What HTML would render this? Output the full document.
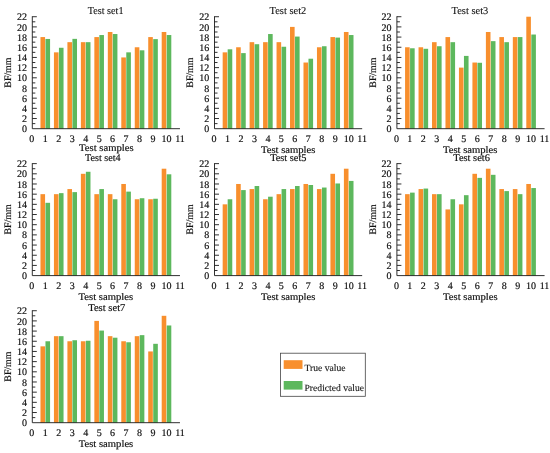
<!DOCTYPE html><html><head><meta charset="utf-8"><title>Test sets</title><style>html,body{margin:0;padding:0;background:#fff}svg{display:block}text{font-family:"Liberation Serif",serif;fill:#111;stroke:#111;stroke-width:0.18px;text-rendering:geometricPrecision}.t{stroke-width:0.1px}</style></head><body>
<svg width="550" height="453" viewBox="0 0 550 453">
<rect width="550" height="453" fill="#fff"/>
<g><rect x="40.47" y="37.08" width="4.6" height="91.62" fill="#F88F2D"/><rect x="45.47" y="38.96" width="4.6" height="89.74" fill="#5DB85D"/><rect x="53.94" y="52.35" width="4.6" height="76.35" fill="#F88F2D"/><rect x="58.94" y="47.77" width="4.6" height="80.93" fill="#5DB85D"/><rect x="67.41" y="42.17" width="4.6" height="86.53" fill="#F88F2D"/><rect x="72.41" y="38.86" width="4.6" height="89.84" fill="#5DB85D"/><rect x="80.88" y="42.17" width="4.6" height="86.53" fill="#F88F2D"/><rect x="85.88" y="42.17" width="4.6" height="86.53" fill="#5DB85D"/><rect x="94.35" y="37.08" width="4.6" height="91.62" fill="#F88F2D"/><rect x="99.35" y="35.04" width="4.6" height="93.66" fill="#5DB85D"/><rect x="107.82" y="31.99" width="4.6" height="96.71" fill="#F88F2D"/><rect x="112.82" y="34.03" width="4.6" height="94.67" fill="#5DB85D"/><rect x="121.29" y="57.44" width="4.6" height="71.26" fill="#F88F2D"/><rect x="126.29" y="52.35" width="4.6" height="76.35" fill="#5DB85D"/><rect x="134.76" y="47.26" width="4.6" height="81.44" fill="#F88F2D"/><rect x="139.76" y="50.31" width="4.6" height="78.39" fill="#5DB85D"/><rect x="148.23" y="37.08" width="4.6" height="91.62" fill="#F88F2D"/><rect x="153.23" y="39.12" width="4.6" height="89.58" fill="#5DB85D"/><rect x="161.70" y="31.99" width="4.6" height="96.71" fill="#F88F2D"/><rect x="166.70" y="35.04" width="4.6" height="93.66" fill="#5DB85D"/><path d="M32.30 16.27V128.70H179.97" fill="none" stroke="#1a1a1a" stroke-width="0.9"/><path d="M32.30 123.61h3M32.30 118.52h4.5M32.30 113.43h3M32.30 108.34h4.5M32.30 103.25h3M32.30 98.16h4.5M32.30 93.07h3M32.30 87.98h4.5M32.30 82.89h3M32.30 77.80h4.5M32.30 72.71h3M32.30 67.62h4.5M32.30 62.53h3M32.30 57.44h4.5M32.30 52.35h3M32.30 47.26h4.5M32.30 42.17h3M32.30 37.08h4.5M32.30 31.99h3M32.30 26.90h4.5M32.30 21.81h3M32.30 16.72h4.5" fill="none" stroke="#1a1a1a" stroke-width="0.9"/><text x="27.00" y="132.30" font-size="10" text-anchor="end">0</text><text x="27.00" y="122.12" font-size="10" text-anchor="end">2</text><text x="27.00" y="111.94" font-size="10" text-anchor="end">4</text><text x="27.00" y="101.76" font-size="10" text-anchor="end">6</text><text x="27.00" y="91.58" font-size="10" text-anchor="end">8</text><text x="27.00" y="81.40" font-size="10" text-anchor="end">10</text><text x="27.00" y="71.22" font-size="10" text-anchor="end">12</text><text x="27.00" y="61.04" font-size="10" text-anchor="end">14</text><text x="27.00" y="50.86" font-size="10" text-anchor="end">16</text><text x="27.00" y="40.68" font-size="10" text-anchor="end">18</text><text x="27.00" y="30.50" font-size="10" text-anchor="end">20</text><text x="27.00" y="20.32" font-size="10" text-anchor="end">22</text><text x="31.80" y="142.00" font-size="10" text-anchor="middle">0</text><text x="45.27" y="142.00" font-size="10" text-anchor="middle">1</text><text x="58.74" y="142.00" font-size="10" text-anchor="middle">2</text><text x="72.21" y="142.00" font-size="10" text-anchor="middle">3</text><text x="85.68" y="142.00" font-size="10" text-anchor="middle">4</text><text x="99.15" y="142.00" font-size="10" text-anchor="middle">5</text><text x="112.62" y="142.00" font-size="10" text-anchor="middle">6</text><text x="126.09" y="142.00" font-size="10" text-anchor="middle">7</text><text x="139.56" y="142.00" font-size="10" text-anchor="middle">8</text><text x="153.03" y="142.00" font-size="10" text-anchor="middle">9</text><text x="166.50" y="142.00" font-size="10" text-anchor="middle">10</text><text x="179.97" y="142.00" font-size="10" text-anchor="middle">11</text><text x="79.05" y="150.90" font-size="10.1" textLength="54.5" lengthAdjust="spacingAndGlyphs">Test samples</text><text class="t" x="87.70" y="13.60" font-size="10.6" textLength="35.8" lengthAdjust="spacingAndGlyphs">Test set1</text><text transform="translate(10.90 72.61) rotate(-90)" font-size="9.9" text-anchor="middle">BF/mm</text></g>
<g><rect x="222.67" y="52.35" width="4.6" height="76.35" fill="#F88F2D"/><rect x="227.67" y="49.30" width="4.6" height="79.40" fill="#5DB85D"/><rect x="236.14" y="47.26" width="4.6" height="81.44" fill="#F88F2D"/><rect x="241.14" y="53.11" width="4.6" height="75.59" fill="#5DB85D"/><rect x="249.61" y="42.17" width="4.6" height="86.53" fill="#F88F2D"/><rect x="254.61" y="44.21" width="4.6" height="84.49" fill="#5DB85D"/><rect x="263.08" y="42.17" width="4.6" height="86.53" fill="#F88F2D"/><rect x="268.08" y="34.03" width="4.6" height="94.67" fill="#5DB85D"/><rect x="276.55" y="42.17" width="4.6" height="86.53" fill="#F88F2D"/><rect x="281.55" y="46.75" width="4.6" height="81.95" fill="#5DB85D"/><rect x="290.02" y="26.90" width="4.6" height="101.80" fill="#F88F2D"/><rect x="295.02" y="36.57" width="4.6" height="92.13" fill="#5DB85D"/><rect x="303.49" y="62.53" width="4.6" height="66.17" fill="#F88F2D"/><rect x="308.49" y="58.71" width="4.6" height="69.99" fill="#5DB85D"/><rect x="316.96" y="47.26" width="4.6" height="81.44" fill="#F88F2D"/><rect x="321.96" y="46.24" width="4.6" height="82.46" fill="#5DB85D"/><rect x="330.43" y="37.08" width="4.6" height="91.62" fill="#F88F2D"/><rect x="335.43" y="37.59" width="4.6" height="91.11" fill="#5DB85D"/><rect x="343.90" y="31.99" width="4.6" height="96.71" fill="#F88F2D"/><rect x="348.90" y="35.04" width="4.6" height="93.66" fill="#5DB85D"/><path d="M214.50 16.27V128.70H362.17" fill="none" stroke="#1a1a1a" stroke-width="0.9"/><path d="M214.50 123.61h3M214.50 118.52h4.5M214.50 113.43h3M214.50 108.34h4.5M214.50 103.25h3M214.50 98.16h4.5M214.50 93.07h3M214.50 87.98h4.5M214.50 82.89h3M214.50 77.80h4.5M214.50 72.71h3M214.50 67.62h4.5M214.50 62.53h3M214.50 57.44h4.5M214.50 52.35h3M214.50 47.26h4.5M214.50 42.17h3M214.50 37.08h4.5M214.50 31.99h3M214.50 26.90h4.5M214.50 21.81h3M214.50 16.72h4.5" fill="none" stroke="#1a1a1a" stroke-width="0.9"/><text x="209.20" y="132.30" font-size="10" text-anchor="end">0</text><text x="209.20" y="122.12" font-size="10" text-anchor="end">2</text><text x="209.20" y="111.94" font-size="10" text-anchor="end">4</text><text x="209.20" y="101.76" font-size="10" text-anchor="end">6</text><text x="209.20" y="91.58" font-size="10" text-anchor="end">8</text><text x="209.20" y="81.40" font-size="10" text-anchor="end">10</text><text x="209.20" y="71.22" font-size="10" text-anchor="end">12</text><text x="209.20" y="61.04" font-size="10" text-anchor="end">14</text><text x="209.20" y="50.86" font-size="10" text-anchor="end">16</text><text x="209.20" y="40.68" font-size="10" text-anchor="end">18</text><text x="209.20" y="30.50" font-size="10" text-anchor="end">20</text><text x="209.20" y="20.32" font-size="10" text-anchor="end">22</text><text x="214.00" y="142.00" font-size="10" text-anchor="middle">0</text><text x="227.47" y="142.00" font-size="10" text-anchor="middle">1</text><text x="240.94" y="142.00" font-size="10" text-anchor="middle">2</text><text x="254.41" y="142.00" font-size="10" text-anchor="middle">3</text><text x="267.88" y="142.00" font-size="10" text-anchor="middle">4</text><text x="281.35" y="142.00" font-size="10" text-anchor="middle">5</text><text x="294.82" y="142.00" font-size="10" text-anchor="middle">6</text><text x="308.29" y="142.00" font-size="10" text-anchor="middle">7</text><text x="321.76" y="142.00" font-size="10" text-anchor="middle">8</text><text x="335.23" y="142.00" font-size="10" text-anchor="middle">9</text><text x="348.70" y="142.00" font-size="10" text-anchor="middle">10</text><text x="362.17" y="142.00" font-size="10" text-anchor="middle">11</text><text x="260.95" y="152.80" font-size="10.1" textLength="54.5" lengthAdjust="spacingAndGlyphs">Test samples</text><text class="t" x="269.50" y="13.60" font-size="10.6" textLength="36.8" lengthAdjust="spacingAndGlyphs">Test set2</text><text transform="translate(193.10 72.61) rotate(-90)" font-size="9.9" text-anchor="middle">BF/mm</text></g>
<g><rect x="405.07" y="47.26" width="4.6" height="81.44" fill="#F88F2D"/><rect x="410.07" y="48.28" width="4.6" height="80.42" fill="#5DB85D"/><rect x="418.54" y="47.26" width="4.6" height="81.44" fill="#F88F2D"/><rect x="423.54" y="48.79" width="4.6" height="79.91" fill="#5DB85D"/><rect x="432.01" y="42.17" width="4.6" height="86.53" fill="#F88F2D"/><rect x="437.01" y="46.24" width="4.6" height="82.46" fill="#5DB85D"/><rect x="445.48" y="37.08" width="4.6" height="91.62" fill="#F88F2D"/><rect x="450.48" y="42.17" width="4.6" height="86.53" fill="#5DB85D"/><rect x="458.95" y="67.62" width="4.6" height="61.08" fill="#F88F2D"/><rect x="463.95" y="55.91" width="4.6" height="72.79" fill="#5DB85D"/><rect x="472.42" y="62.53" width="4.6" height="66.17" fill="#F88F2D"/><rect x="477.42" y="62.78" width="4.6" height="65.92" fill="#5DB85D"/><rect x="485.89" y="31.99" width="4.6" height="96.71" fill="#F88F2D"/><rect x="490.89" y="41.15" width="4.6" height="87.55" fill="#5DB85D"/><rect x="499.36" y="37.08" width="4.6" height="91.62" fill="#F88F2D"/><rect x="504.36" y="42.17" width="4.6" height="86.53" fill="#5DB85D"/><rect x="512.83" y="37.08" width="4.6" height="91.62" fill="#F88F2D"/><rect x="517.83" y="37.08" width="4.6" height="91.62" fill="#5DB85D"/><rect x="526.30" y="16.72" width="4.6" height="111.98" fill="#F88F2D"/><rect x="531.30" y="34.53" width="4.6" height="94.16" fill="#5DB85D"/><path d="M396.90 16.27V128.70H544.57" fill="none" stroke="#1a1a1a" stroke-width="0.9"/><path d="M396.90 123.61h3M396.90 118.52h4.5M396.90 113.43h3M396.90 108.34h4.5M396.90 103.25h3M396.90 98.16h4.5M396.90 93.07h3M396.90 87.98h4.5M396.90 82.89h3M396.90 77.80h4.5M396.90 72.71h3M396.90 67.62h4.5M396.90 62.53h3M396.90 57.44h4.5M396.90 52.35h3M396.90 47.26h4.5M396.90 42.17h3M396.90 37.08h4.5M396.90 31.99h3M396.90 26.90h4.5M396.90 21.81h3M396.90 16.72h4.5" fill="none" stroke="#1a1a1a" stroke-width="0.9"/><text x="391.60" y="132.30" font-size="10" text-anchor="end">0</text><text x="391.60" y="122.12" font-size="10" text-anchor="end">2</text><text x="391.60" y="111.94" font-size="10" text-anchor="end">4</text><text x="391.60" y="101.76" font-size="10" text-anchor="end">6</text><text x="391.60" y="91.58" font-size="10" text-anchor="end">8</text><text x="391.60" y="81.40" font-size="10" text-anchor="end">10</text><text x="391.60" y="71.22" font-size="10" text-anchor="end">12</text><text x="391.60" y="61.04" font-size="10" text-anchor="end">14</text><text x="391.60" y="50.86" font-size="10" text-anchor="end">16</text><text x="391.60" y="40.68" font-size="10" text-anchor="end">18</text><text x="391.60" y="30.50" font-size="10" text-anchor="end">20</text><text x="391.60" y="20.32" font-size="10" text-anchor="end">22</text><text x="396.40" y="142.00" font-size="10" text-anchor="middle">0</text><text x="409.87" y="142.00" font-size="10" text-anchor="middle">1</text><text x="423.34" y="142.00" font-size="10" text-anchor="middle">2</text><text x="436.81" y="142.00" font-size="10" text-anchor="middle">3</text><text x="450.28" y="142.00" font-size="10" text-anchor="middle">4</text><text x="463.75" y="142.00" font-size="10" text-anchor="middle">5</text><text x="477.22" y="142.00" font-size="10" text-anchor="middle">6</text><text x="490.69" y="142.00" font-size="10" text-anchor="middle">7</text><text x="504.16" y="142.00" font-size="10" text-anchor="middle">8</text><text x="517.63" y="142.00" font-size="10" text-anchor="middle">9</text><text x="531.10" y="142.00" font-size="10" text-anchor="middle">10</text><text x="544.57" y="142.00" font-size="10" text-anchor="middle">11</text><text x="442.95" y="152.80" font-size="10.1" textLength="54.5" lengthAdjust="spacingAndGlyphs">Test samples</text><text class="t" x="451.50" y="13.60" font-size="10.6" textLength="36.8" lengthAdjust="spacingAndGlyphs">Test set3</text><text transform="translate(375.50 72.61) rotate(-90)" font-size="9.9" text-anchor="middle">BF/mm</text></g>
<g><rect x="40.47" y="194.16" width="4.6" height="81.44" fill="#F88F2D"/><rect x="45.47" y="202.81" width="4.6" height="72.79" fill="#5DB85D"/><rect x="53.94" y="194.16" width="4.6" height="81.44" fill="#F88F2D"/><rect x="58.94" y="193.14" width="4.6" height="82.46" fill="#5DB85D"/><rect x="67.41" y="189.07" width="4.6" height="86.53" fill="#F88F2D"/><rect x="72.41" y="192.12" width="4.6" height="83.48" fill="#5DB85D"/><rect x="80.88" y="173.80" width="4.6" height="101.80" fill="#F88F2D"/><rect x="85.88" y="171.76" width="4.6" height="103.84" fill="#5DB85D"/><rect x="94.35" y="194.16" width="4.6" height="81.44" fill="#F88F2D"/><rect x="99.35" y="189.07" width="4.6" height="86.53" fill="#5DB85D"/><rect x="107.82" y="194.16" width="4.6" height="81.44" fill="#F88F2D"/><rect x="112.82" y="199.25" width="4.6" height="76.35" fill="#5DB85D"/><rect x="121.29" y="183.98" width="4.6" height="91.62" fill="#F88F2D"/><rect x="126.29" y="191.62" width="4.6" height="83.98" fill="#5DB85D"/><rect x="134.76" y="199.25" width="4.6" height="76.35" fill="#F88F2D"/><rect x="139.76" y="198.23" width="4.6" height="77.37" fill="#5DB85D"/><rect x="148.23" y="199.25" width="4.6" height="76.35" fill="#F88F2D"/><rect x="153.23" y="198.74" width="4.6" height="76.86" fill="#5DB85D"/><rect x="161.70" y="168.71" width="4.6" height="106.89" fill="#F88F2D"/><rect x="166.70" y="174.31" width="4.6" height="101.29" fill="#5DB85D"/><path d="M32.30 163.17V275.60H179.97" fill="none" stroke="#1a1a1a" stroke-width="0.9"/><path d="M32.30 270.51h3M32.30 265.42h4.5M32.30 260.33h3M32.30 255.24h4.5M32.30 250.15h3M32.30 245.06h4.5M32.30 239.97h3M32.30 234.88h4.5M32.30 229.79h3M32.30 224.70h4.5M32.30 219.61h3M32.30 214.52h4.5M32.30 209.43h3M32.30 204.34h4.5M32.30 199.25h3M32.30 194.16h4.5M32.30 189.07h3M32.30 183.98h4.5M32.30 178.89h3M32.30 173.80h4.5M32.30 168.71h3M32.30 163.62h4.5" fill="none" stroke="#1a1a1a" stroke-width="0.9"/><text x="27.00" y="279.20" font-size="10" text-anchor="end">0</text><text x="27.00" y="269.02" font-size="10" text-anchor="end">2</text><text x="27.00" y="258.84" font-size="10" text-anchor="end">4</text><text x="27.00" y="248.66" font-size="10" text-anchor="end">6</text><text x="27.00" y="238.48" font-size="10" text-anchor="end">8</text><text x="27.00" y="228.30" font-size="10" text-anchor="end">10</text><text x="27.00" y="218.12" font-size="10" text-anchor="end">12</text><text x="27.00" y="207.94" font-size="10" text-anchor="end">14</text><text x="27.00" y="197.76" font-size="10" text-anchor="end">16</text><text x="27.00" y="187.58" font-size="10" text-anchor="end">18</text><text x="27.00" y="177.40" font-size="10" text-anchor="end">20</text><text x="27.00" y="167.22" font-size="10" text-anchor="end">22</text><text x="31.80" y="288.90" font-size="10" text-anchor="middle">0</text><text x="45.27" y="288.90" font-size="10" text-anchor="middle">1</text><text x="58.74" y="288.90" font-size="10" text-anchor="middle">2</text><text x="72.21" y="288.90" font-size="10" text-anchor="middle">3</text><text x="85.68" y="288.90" font-size="10" text-anchor="middle">4</text><text x="99.15" y="288.90" font-size="10" text-anchor="middle">5</text><text x="112.62" y="288.90" font-size="10" text-anchor="middle">6</text><text x="126.09" y="288.90" font-size="10" text-anchor="middle">7</text><text x="139.56" y="288.90" font-size="10" text-anchor="middle">8</text><text x="153.03" y="288.90" font-size="10" text-anchor="middle">9</text><text x="166.50" y="288.90" font-size="10" text-anchor="middle">10</text><text x="179.97" y="288.90" font-size="10" text-anchor="middle">11</text><text x="78.55" y="300.00" font-size="10.1" textLength="54.5" lengthAdjust="spacingAndGlyphs">Test samples</text><text x="85.05" y="161.30" font-size="10.2" textLength="35.5" lengthAdjust="spacingAndGlyphs">Test set4</text><text transform="translate(10.90 219.51) rotate(-90)" font-size="9.9" text-anchor="middle">BF/mm</text></g>
<g><rect x="222.67" y="204.34" width="4.6" height="71.26" fill="#F88F2D"/><rect x="227.67" y="199.25" width="4.6" height="76.35" fill="#5DB85D"/><rect x="236.14" y="183.98" width="4.6" height="91.62" fill="#F88F2D"/><rect x="241.14" y="190.09" width="4.6" height="85.51" fill="#5DB85D"/><rect x="249.61" y="189.07" width="4.6" height="86.53" fill="#F88F2D"/><rect x="254.61" y="186.02" width="4.6" height="89.58" fill="#5DB85D"/><rect x="263.08" y="199.25" width="4.6" height="76.35" fill="#F88F2D"/><rect x="268.08" y="196.71" width="4.6" height="78.89" fill="#5DB85D"/><rect x="276.55" y="194.16" width="4.6" height="81.44" fill="#F88F2D"/><rect x="281.55" y="189.07" width="4.6" height="86.53" fill="#5DB85D"/><rect x="290.02" y="189.07" width="4.6" height="86.53" fill="#F88F2D"/><rect x="295.02" y="186.02" width="4.6" height="89.58" fill="#5DB85D"/><rect x="303.49" y="183.98" width="4.6" height="91.62" fill="#F88F2D"/><rect x="308.49" y="185.00" width="4.6" height="90.60" fill="#5DB85D"/><rect x="316.96" y="189.07" width="4.6" height="86.53" fill="#F88F2D"/><rect x="321.96" y="187.54" width="4.6" height="88.06" fill="#5DB85D"/><rect x="330.43" y="173.80" width="4.6" height="101.80" fill="#F88F2D"/><rect x="335.43" y="183.47" width="4.6" height="92.13" fill="#5DB85D"/><rect x="343.90" y="168.71" width="4.6" height="106.89" fill="#F88F2D"/><rect x="348.90" y="180.93" width="4.6" height="94.67" fill="#5DB85D"/><path d="M214.50 163.17V275.60H362.17" fill="none" stroke="#1a1a1a" stroke-width="0.9"/><path d="M214.50 270.51h3M214.50 265.42h4.5M214.50 260.33h3M214.50 255.24h4.5M214.50 250.15h3M214.50 245.06h4.5M214.50 239.97h3M214.50 234.88h4.5M214.50 229.79h3M214.50 224.70h4.5M214.50 219.61h3M214.50 214.52h4.5M214.50 209.43h3M214.50 204.34h4.5M214.50 199.25h3M214.50 194.16h4.5M214.50 189.07h3M214.50 183.98h4.5M214.50 178.89h3M214.50 173.80h4.5M214.50 168.71h3M214.50 163.62h4.5" fill="none" stroke="#1a1a1a" stroke-width="0.9"/><text x="209.20" y="279.20" font-size="10" text-anchor="end">0</text><text x="209.20" y="269.02" font-size="10" text-anchor="end">2</text><text x="209.20" y="258.84" font-size="10" text-anchor="end">4</text><text x="209.20" y="248.66" font-size="10" text-anchor="end">6</text><text x="209.20" y="238.48" font-size="10" text-anchor="end">8</text><text x="209.20" y="228.30" font-size="10" text-anchor="end">10</text><text x="209.20" y="218.12" font-size="10" text-anchor="end">12</text><text x="209.20" y="207.94" font-size="10" text-anchor="end">14</text><text x="209.20" y="197.76" font-size="10" text-anchor="end">16</text><text x="209.20" y="187.58" font-size="10" text-anchor="end">18</text><text x="209.20" y="177.40" font-size="10" text-anchor="end">20</text><text x="209.20" y="167.22" font-size="10" text-anchor="end">22</text><text x="214.00" y="288.90" font-size="10" text-anchor="middle">0</text><text x="227.47" y="288.90" font-size="10" text-anchor="middle">1</text><text x="240.94" y="288.90" font-size="10" text-anchor="middle">2</text><text x="254.41" y="288.90" font-size="10" text-anchor="middle">3</text><text x="267.88" y="288.90" font-size="10" text-anchor="middle">4</text><text x="281.35" y="288.90" font-size="10" text-anchor="middle">5</text><text x="294.82" y="288.90" font-size="10" text-anchor="middle">6</text><text x="308.29" y="288.90" font-size="10" text-anchor="middle">7</text><text x="321.76" y="288.90" font-size="10" text-anchor="middle">8</text><text x="335.23" y="288.90" font-size="10" text-anchor="middle">9</text><text x="348.70" y="288.90" font-size="10" text-anchor="middle">10</text><text x="362.17" y="288.90" font-size="10" text-anchor="middle">11</text><text x="260.95" y="299.80" font-size="10.1" textLength="54.5" lengthAdjust="spacingAndGlyphs">Test samples</text><text x="270.15" y="161.30" font-size="10.2" textLength="36.3" lengthAdjust="spacingAndGlyphs">Test set5</text><text transform="translate(193.10 219.51) rotate(-90)" font-size="9.9" text-anchor="middle">BF/mm</text></g>
<g><rect x="405.07" y="194.16" width="4.6" height="81.44" fill="#F88F2D"/><rect x="410.07" y="192.63" width="4.6" height="82.97" fill="#5DB85D"/><rect x="418.54" y="189.07" width="4.6" height="86.53" fill="#F88F2D"/><rect x="423.54" y="188.56" width="4.6" height="87.04" fill="#5DB85D"/><rect x="432.01" y="194.16" width="4.6" height="81.44" fill="#F88F2D"/><rect x="437.01" y="194.16" width="4.6" height="81.44" fill="#5DB85D"/><rect x="445.48" y="209.43" width="4.6" height="66.17" fill="#F88F2D"/><rect x="450.48" y="199.25" width="4.6" height="76.35" fill="#5DB85D"/><rect x="458.95" y="204.34" width="4.6" height="71.26" fill="#F88F2D"/><rect x="463.95" y="195.18" width="4.6" height="80.42" fill="#5DB85D"/><rect x="472.42" y="173.80" width="4.6" height="101.80" fill="#F88F2D"/><rect x="477.42" y="177.87" width="4.6" height="97.73" fill="#5DB85D"/><rect x="485.89" y="168.71" width="4.6" height="106.89" fill="#F88F2D"/><rect x="490.89" y="174.82" width="4.6" height="100.78" fill="#5DB85D"/><rect x="499.36" y="189.07" width="4.6" height="86.53" fill="#F88F2D"/><rect x="504.36" y="191.11" width="4.6" height="84.49" fill="#5DB85D"/><rect x="512.83" y="189.07" width="4.6" height="86.53" fill="#F88F2D"/><rect x="517.83" y="194.16" width="4.6" height="81.44" fill="#5DB85D"/><rect x="526.30" y="183.98" width="4.6" height="91.62" fill="#F88F2D"/><rect x="531.30" y="188.05" width="4.6" height="87.55" fill="#5DB85D"/><path d="M396.90 163.17V275.60H544.57" fill="none" stroke="#1a1a1a" stroke-width="0.9"/><path d="M396.90 270.51h3M396.90 265.42h4.5M396.90 260.33h3M396.90 255.24h4.5M396.90 250.15h3M396.90 245.06h4.5M396.90 239.97h3M396.90 234.88h4.5M396.90 229.79h3M396.90 224.70h4.5M396.90 219.61h3M396.90 214.52h4.5M396.90 209.43h3M396.90 204.34h4.5M396.90 199.25h3M396.90 194.16h4.5M396.90 189.07h3M396.90 183.98h4.5M396.90 178.89h3M396.90 173.80h4.5M396.90 168.71h3M396.90 163.62h4.5" fill="none" stroke="#1a1a1a" stroke-width="0.9"/><text x="391.60" y="279.20" font-size="10" text-anchor="end">0</text><text x="391.60" y="269.02" font-size="10" text-anchor="end">2</text><text x="391.60" y="258.84" font-size="10" text-anchor="end">4</text><text x="391.60" y="248.66" font-size="10" text-anchor="end">6</text><text x="391.60" y="238.48" font-size="10" text-anchor="end">8</text><text x="391.60" y="228.30" font-size="10" text-anchor="end">10</text><text x="391.60" y="218.12" font-size="10" text-anchor="end">12</text><text x="391.60" y="207.94" font-size="10" text-anchor="end">14</text><text x="391.60" y="197.76" font-size="10" text-anchor="end">16</text><text x="391.60" y="187.58" font-size="10" text-anchor="end">18</text><text x="391.60" y="177.40" font-size="10" text-anchor="end">20</text><text x="391.60" y="167.22" font-size="10" text-anchor="end">22</text><text x="396.40" y="288.90" font-size="10" text-anchor="middle">0</text><text x="409.87" y="288.90" font-size="10" text-anchor="middle">1</text><text x="423.34" y="288.90" font-size="10" text-anchor="middle">2</text><text x="436.81" y="288.90" font-size="10" text-anchor="middle">3</text><text x="450.28" y="288.90" font-size="10" text-anchor="middle">4</text><text x="463.75" y="288.90" font-size="10" text-anchor="middle">5</text><text x="477.22" y="288.90" font-size="10" text-anchor="middle">6</text><text x="490.69" y="288.90" font-size="10" text-anchor="middle">7</text><text x="504.16" y="288.90" font-size="10" text-anchor="middle">8</text><text x="517.63" y="288.90" font-size="10" text-anchor="middle">9</text><text x="531.10" y="288.90" font-size="10" text-anchor="middle">10</text><text x="544.57" y="288.90" font-size="10" text-anchor="middle">11</text><text x="443.05" y="299.80" font-size="10.1" textLength="54.5" lengthAdjust="spacingAndGlyphs">Test samples</text><text x="453.25" y="161.30" font-size="10.2" textLength="36.7" lengthAdjust="spacingAndGlyphs">Test set6</text><text transform="translate(375.50 219.51) rotate(-90)" font-size="9.9" text-anchor="middle">BF/mm</text></g>
<g><rect x="40.47" y="346.35" width="4.6" height="76.35" fill="#F88F2D"/><rect x="45.47" y="341.26" width="4.6" height="81.44" fill="#5DB85D"/><rect x="53.94" y="336.17" width="4.6" height="86.53" fill="#F88F2D"/><rect x="58.94" y="336.17" width="4.6" height="86.53" fill="#5DB85D"/><rect x="67.41" y="341.26" width="4.6" height="81.44" fill="#F88F2D"/><rect x="72.41" y="340.24" width="4.6" height="82.46" fill="#5DB85D"/><rect x="80.88" y="341.26" width="4.6" height="81.44" fill="#F88F2D"/><rect x="85.88" y="340.75" width="4.6" height="81.95" fill="#5DB85D"/><rect x="94.35" y="320.90" width="4.6" height="101.80" fill="#F88F2D"/><rect x="99.35" y="330.57" width="4.6" height="92.13" fill="#5DB85D"/><rect x="107.82" y="336.17" width="4.6" height="86.53" fill="#F88F2D"/><rect x="112.82" y="337.70" width="4.6" height="85.00" fill="#5DB85D"/><rect x="121.29" y="341.26" width="4.6" height="81.44" fill="#F88F2D"/><rect x="126.29" y="342.28" width="4.6" height="80.42" fill="#5DB85D"/><rect x="134.76" y="336.17" width="4.6" height="86.53" fill="#F88F2D"/><rect x="139.76" y="335.15" width="4.6" height="87.55" fill="#5DB85D"/><rect x="148.23" y="351.44" width="4.6" height="71.26" fill="#F88F2D"/><rect x="153.23" y="343.81" width="4.6" height="78.89" fill="#5DB85D"/><rect x="161.70" y="315.81" width="4.6" height="106.89" fill="#F88F2D"/><rect x="166.70" y="325.48" width="4.6" height="97.22" fill="#5DB85D"/><path d="M32.30 310.27V422.70H179.97" fill="none" stroke="#1a1a1a" stroke-width="0.9"/><path d="M32.30 417.61h3M32.30 412.52h4.5M32.30 407.43h3M32.30 402.34h4.5M32.30 397.25h3M32.30 392.16h4.5M32.30 387.07h3M32.30 381.98h4.5M32.30 376.89h3M32.30 371.80h4.5M32.30 366.71h3M32.30 361.62h4.5M32.30 356.53h3M32.30 351.44h4.5M32.30 346.35h3M32.30 341.26h4.5M32.30 336.17h3M32.30 331.08h4.5M32.30 325.99h3M32.30 320.90h4.5M32.30 315.81h3M32.30 310.72h4.5" fill="none" stroke="#1a1a1a" stroke-width="0.9"/><text x="27.00" y="426.30" font-size="10" text-anchor="end">0</text><text x="27.00" y="416.12" font-size="10" text-anchor="end">2</text><text x="27.00" y="405.94" font-size="10" text-anchor="end">4</text><text x="27.00" y="395.76" font-size="10" text-anchor="end">6</text><text x="27.00" y="385.58" font-size="10" text-anchor="end">8</text><text x="27.00" y="375.40" font-size="10" text-anchor="end">10</text><text x="27.00" y="365.22" font-size="10" text-anchor="end">12</text><text x="27.00" y="355.04" font-size="10" text-anchor="end">14</text><text x="27.00" y="344.86" font-size="10" text-anchor="end">16</text><text x="27.00" y="334.68" font-size="10" text-anchor="end">18</text><text x="27.00" y="324.50" font-size="10" text-anchor="end">20</text><text x="27.00" y="314.32" font-size="10" text-anchor="end">22</text><text x="31.80" y="436.00" font-size="10" text-anchor="middle">0</text><text x="45.27" y="436.00" font-size="10" text-anchor="middle">1</text><text x="58.74" y="436.00" font-size="10" text-anchor="middle">2</text><text x="72.21" y="436.00" font-size="10" text-anchor="middle">3</text><text x="85.68" y="436.00" font-size="10" text-anchor="middle">4</text><text x="99.15" y="436.00" font-size="10" text-anchor="middle">5</text><text x="112.62" y="436.00" font-size="10" text-anchor="middle">6</text><text x="126.09" y="436.00" font-size="10" text-anchor="middle">7</text><text x="139.56" y="436.00" font-size="10" text-anchor="middle">8</text><text x="153.03" y="436.00" font-size="10" text-anchor="middle">9</text><text x="166.50" y="436.00" font-size="10" text-anchor="middle">10</text><text x="179.97" y="436.00" font-size="10" text-anchor="middle">11</text><text x="78.75" y="447.20" font-size="10.1" textLength="54.5" lengthAdjust="spacingAndGlyphs">Test samples</text><text x="88.20" y="311.40" font-size="10.4" textLength="37.2" lengthAdjust="spacingAndGlyphs">Test set7</text><text transform="translate(10.90 366.61) rotate(-90)" font-size="9.9" text-anchor="middle">BF/mm</text></g>
<rect x="280.5" y="353.2" width="84.8" height="43.1" fill="#fff" stroke="#444" stroke-width="0.8"/>
<rect x="283.7" y="360.2" width="18.8" height="8.7" fill="#F88F2D"/>
<rect x="283.7" y="381" width="18.8" height="8.6" fill="#5DB85D"/>
<text class="t" x="304.5" y="371" font-size="9.65">True value</text>
<text class="t" x="304.5" y="391" font-size="9.65">Predicted value</text>
</svg></body></html>
